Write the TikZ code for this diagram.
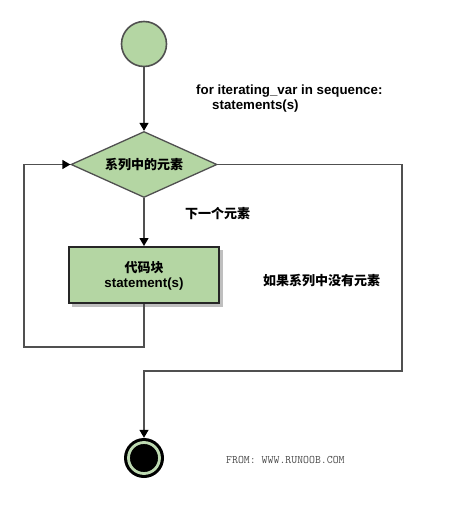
\documentclass[tikz,border=0pt]{standalone}
\usepackage{fontspec}
\setmainfont{Liberation Sans}
\newfontfamily\cjk{Noto Sans CJK SC}
\usetikzlibrary{arrows.meta,shapes.geometric}
\definecolor{nodegreen}{RGB}{180,214,163}
\definecolor{linegray}{RGB}{80,80,80}
\definecolor{ringgreen}{RGB}{190,218,178}
\tikzset{
  conn/.style={draw=linegray, line width=1.3pt},
  arr/.style={conn, -{Triangle[width=9pt,length=8pt,color=black,fill=black]}},
  lbl/.style={font=\fontsize{13.3}{15}\selectfont\bfseries, inner sep=0pt},
  cjklbl/.style={font=\fontsize{13}{15}\selectfont\cjk\bfseries, inner sep=0pt},
}
\begin{document}
\begin{tikzpicture}[x=1pt,y=-1pt]
\useasboundingbox (0,0) rectangle (455,505);
% start
\node[circle, draw=linegray, line width=1.6pt, fill=nodegreen, minimum size=45pt, inner sep=0pt] (start) at (144,44) {};
% decision
\node[diamond, aspect=2.2, draw=linegray, line width=1.3pt, fill=nodegreen, minimum width=146pt, minimum height=66pt, inner sep=0pt, cjklbl] (dec) at (144,164.5) {系列中的元素};
% block shadow
\fill[black!25] (72,250) rectangle (223,307);
\node[rectangle, draw=black!85, line width=2pt, fill=nodegreen, minimum width=150pt, minimum height=56pt, inner sep=0pt] (blk) at (144,275) {};
\node[cjklbl] (blk1) at (144,268) {代码块};
\node[lbl] (blk2) at (144,284) {statement(s)};
% end
\node[circle, fill=black, minimum size=40pt, inner sep=0pt] (stop) at (144,458) {};
\draw[ringgreen, line width=2.8pt] (stop.center) circle (15.5pt);
% texts
\node[lbl, anchor=west] (code1) at (196,91) {for iterating\_var in sequence:};
\node[lbl, anchor=west] (code2) at (212,106) {statements(s)};
\node[cjklbl, anchor=west] (next) at (185,214) {下一个元素};
\node[cjklbl, anchor=west] (none) at (263,281) {如果系列中没有元素};
\node[inner sep=0pt, anchor=west, text=black!70, font=\fontsize{11.5}{12}\selectfont\ttfamily] (from) at (226,460) {FROM: WWW.RUNOOB.COM};
% connectors
\coordinate (c1) at (402,371);
\coordinate (c2) at (24,347);
\draw[arr] (start) -- (dec.north);
\draw[arr] (dec.south) -- (blk.north);
\draw[arr] (blk.south) |- (c2) |- (dec.west);
\draw[arr] (dec.east) -| (c1) -| (stop.north);
\end{tikzpicture}
\end{document}
